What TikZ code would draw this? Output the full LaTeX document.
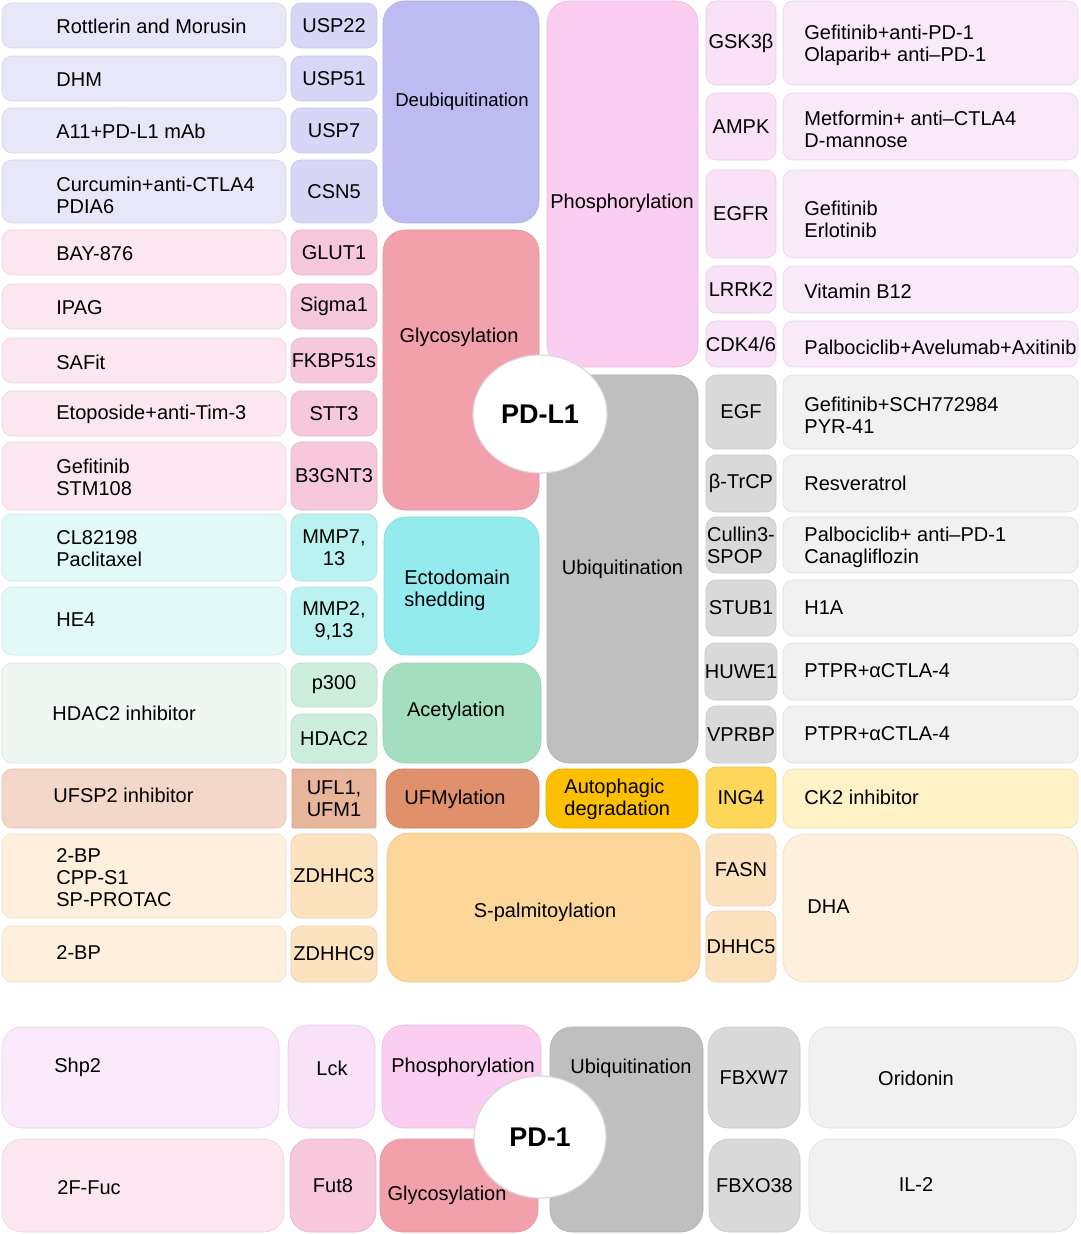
\documentclass[tikz,border=0pt]{standalone}
\usepackage{fontspec}
\setmainfont{Liberation Sans}
\usetikzlibrary{shapes.geometric}

\definecolor{deubA}{HTML}{BDBCF2}
\definecolor{deubB}{HTML}{D8D6F7}
\definecolor{deubC}{HTML}{E8E7FA}
\definecolor{glyA}{HTML}{F2A1AC}
\definecolor{glyB}{HTML}{F7C7DC}
\definecolor{glyC}{HTML}{FCE7F0}
\definecolor{ectA}{HTML}{94EBEE}
\definecolor{ectB}{HTML}{B9F2F1}
\definecolor{ectC}{HTML}{E1FAF8}
\definecolor{aceA}{HTML}{A3DFBF}
\definecolor{aceB}{HTML}{CDEEDC}
\definecolor{aceC}{HTML}{EEF7F1}
\definecolor{ufmA}{HTML}{E0906A}
\definecolor{ufmB}{HTML}{E8B49A}
\definecolor{ufmC}{HTML}{F3D7C9}
\definecolor{autA}{HTML}{FDC000}
\definecolor{autB}{HTML}{FDD65A}
\definecolor{autC}{HTML}{FEF2C6}
\definecolor{palA}{HTML}{FDD699}
\definecolor{palB}{HTML}{FDE2BF}
\definecolor{palC}{HTML}{FEF0DC}
\definecolor{phoA}{HTML}{FACDF1}
\definecolor{phoB}{HTML}{F9E1F7}
\definecolor{phoC}{HTML}{F9E9FB}
\definecolor{ubiA}{HTML}{BFBFBF}
\definecolor{ubiB}{HTML}{D9D9D9}
\definecolor{ubiC}{HTML}{F1F1F1}

\tikzset{
  tile/.style={fill=#1, draw=#1!92!black, line width=0.3pt,
    rounded corners=5pt, inner sep=0pt, align=center},
  block/.style={tile=#1, rounded corners=11pt},
  lbl/.style={inner sep=0pt, align=left, anchor=west},
  hub/.style={ellipse, fill=white, draw=black!15, line width=0.6pt,
    font=\bfseries\fontsize{13.5}{15}\selectfont},
}

% box from (x1,y1) to (x2,y2) in pixels: name, style, x1, y1, x2, y2, text
\newcommand{\tile}[7]{%
  \node[#2, minimum width={(#5-#3)*0.5pt}, minimum height={(#6-#4)*0.5pt}]
    (#1) at ({(#3+#5)/2},{(#4+#6)/2}) {#7};}

\begin{document}
\begin{tikzpicture}[x=0.5pt,y=-0.5pt,
    every node/.style={font=\fontsize{10}{11}\selectfont}]
  \useasboundingbox (0,0) rectangle (1080,1234);

  % PD-L1: drugs and enzymes on the left
  \foreach \n/\cb/\cc/\ya/\yb/\ty/\drug/\enz in {
      usp22/deubB/deubC/3/48/26/{Rottlerin and Morusin}/USP22,
      usp51/deubB/deubC/56/101/80/DHM/USP51,
      usp7/deubB/deubC/108/153/131/{A11+PD-L1 mAb}/USP7,
      csn5/deubB/deubC/160/223/195/{Curcumin+anti-CTLA4\\PDIA6}/CSN5,
      glut1/glyB/glyC/230/275/254/BAY-876/GLUT1,
      sigma1/glyB/glyC/284/329/308/IPAG/Sigma1,
      fkbp/glyB/glyC/338/383/362/SAFit/FKBP51s,
      stt3/glyB/glyC/391/436/414/{Etoposide+anti-Tim-3}/STT3,
      b3gnt3/glyB/glyC/442/510/477/{Gefitinib\\STM108}/B3GNT3,
      mmp7/ectB/ectC/514/581/549/{CL82198\\Paclitaxel}/{MMP7,\\13},
      mmp2/ectB/ectC/587/655/620/HE4/{MMP2,\\9,13},
      zdhhc3/palB/palC/834/918/878/{2-BP\\CPP-S1\\SP-PROTAC}/ZDHHC3,
      zdhhc9/palB/palC/926/982/953/2-BP/ZDHHC9}
  {
    \tile{d\n}{tile=\cc}{2}{\ya}{286}{\yb}{}
    \node[lbl] (t\n) at (56,\ty) {\drug};
    \tile{\n}{tile=\cb}{291}{\ya}{377}{\yb}{\enz}
  }

  % acetylation and UFMylation rows
  \tile{dhdac}{tile=aceC}{2}{663}{286}{763}{}
  \node[lbl] (thdac) at (52,713) {HDAC2 inhibitor};
  \tile{p300}{tile=aceB}{291}{663}{377}{707}{p300}
  \tile{hdac2}{tile=aceB}{291}{714}{377}{763}{HDAC2}
  \tile{dufsp}{tile=ufmC}{2}{769}{286}{828}{}
  \node[lbl] (tufsp) at (53,795) {UFSP2 inhibitor};
  \tile{ufl}{tile=ufmB, rounded corners=0.5pt}{292}{769}{376}{828}{UFL1,\\UFM1}

  % modifications in the middle
  \tile{deub}{block=deubA}{383}{1}{539}{223}{}
  \node[font=\fontsize{9.3}{11}\selectfont] (tdeub) at (462,102) {Deubiquitination};
  \tile{gly}{block=glyA}{383}{230}{539}{510}{}
  \node (tgly) at (459,337) {Glycosylation};
  \tile{ecto}{block=ectA}{384}{517}{539}{655}{}
  \node[lbl] (tecto) at (404,590) {Ectodomain\\shedding};
  \tile{ace}{block=aceA}{383}{663}{541}{763}{}
  \node (tace) at (456,711) {Acetylation};
  \tile{ufm}{tile=ufmA, rounded corners=8pt}{386}{769}{539}{828}{}
  \node (tufm) at (455,799) {UFMylation};
  \tile{auto}{tile=autA, rounded corners=8pt}{546}{769}{698}{828}{}
  \node[lbl] (tauto) at (564,799) {Autophagic\\degradation};
  \tile{palm}{block=palA}{387}{833}{700}{982}{}
  \node (tpalm) at (545,912) {S-palmitoylation};
  \tile{phos}{block=phoA}{547}{1}{698}{367}{}
  \node (tphos) at (622,203) {Phosphorylation};
  \tile{ubi}{block=ubiA}{547}{375}{698}{763}{Ubiquitination}

  % PD-L1: enzymes and drugs on the right
  \foreach \n/\cb/\cc/\ya/\yb/\ty/\drug/\enz in {
      gsk/phoB/phoC/1/85/45/{Gefitinib+anti-PD-1\\Olaparib+ anti–PD-1}/GSK3β,
      ampk/phoB/phoC/93/160/129/{Metformin+ anti–CTLA4\\D-mannose}/AMPK,
      egfr/phoB/phoC/170/258/219/{Gefitinib\\Erlotinib}/EGFR,
      lrrk2/phoB/phoC/266/313/291/{Vitamin B12}/LRRK2,
      cdk/phoB/phoC/321/367/347/{Palbociclib+Avelumab+Axitinib}/{CDK4/6},
      egf/ubiB/ubiC/375/449/415/{Gefitinib+SCH772984\\PYR-41}/EGF,
      btrcp/ubiB/ubiC/455/512/483/Resveratrol/β-TrCP,
      cul/ubiB/ubiC/517/573/547/{Palbociclib+ anti–PD-1\\Canagliflozin}/{Cullin3-\\SPOP},
      stub1/ubiB/ubiC/580/636/608/H1A/STUB1,
      huwe1/ubiB/ubiC/643/700/671/PTPR+αCTLA-4/HUWE1,
      vprbp/ubiB/ubiC/706/763/734/PTPR+αCTLA-4/VPRBP}
  {
    \tile{\n}{tile=\cb, align=left}{706}{\ya}{776}{\yb}{\enz}
    \tile{d\n}{tile=\cc}{783}{\ya}{1078}{\yb}{}
    \node[lbl] (t\n) at (804,\ty) {\drug};
  }

  % autophagy and palmitoylation on the right
  \tile{ing4}{tile=autB}{706}{767}{776}{828}{ING4}
  \tile{dck2}{tile=autC}{783}{769}{1078}{828}{}
  \node[lbl] (tck2) at (804,797) {CK2 inhibitor};
  \tile{fasn}{tile=palB}{706}{834}{776}{906}{FASN}
  \tile{dhhc5}{tile=palB}{706}{911}{776}{982}{DHHC5}
  \tile{ddha}{block=palC}{783}{834}{1078}{982}{}
  \node[lbl] (tdha) at (807,907) {DHA};

  \node[hub, minimum width=67pt, minimum height=59pt] (pdl1) at (540,414) {PD-L1};

  % PD-1
  \tile{bshp2}{tile=phoC, rounded corners=10pt}{2}{1027}{279}{1128}{}
  \node[lbl] (tshp2) at (54,1067) {Shp2};
  \tile{blck}{tile=phoB, rounded corners=10pt}{288}{1025}{375}{1128}{}
  \node (tlck) at (332,1068) {Lck};
  \tile{bphos}{block=phoA}{382}{1025}{541}{1128}{}
  \node (tbphos) at (463,1067) {Phosphorylation};
  \tile{bfuc}{tile=glyC, rounded corners=10pt}{2}{1139}{284}{1232}{}
  \node[lbl] (tfuc) at (57,1188) {2F-Fuc};
  \tile{bfut8}{tile=glyB, rounded corners=10pt}{290}{1139}{376}{1232}{Fut8}
  \tile{bgly}{block=glyA}{380}{1139}{538}{1232}{}
  \node (tbgly) at (447,1195) {Glycosylation};
  \tile{bubi}{block=ubiA}{550}{1027}{703}{1232}{}
  \node (tbubi) at (631,1068) {Ubiquitination};
  \tile{fbxw7}{tile=ubiB, rounded corners=10pt}{708}{1027}{800}{1128}{FBXW7}
  \tile{fbxo38}{tile=ubiB, rounded corners=10pt}{709}{1139}{800}{1232}{FBXO38}
  \tile{dori}{tile=ubiC, rounded corners=10pt}{809}{1027}{1076}{1128}{}
  \node (tori) at (916,1078) {Oridonin};
  \tile{dil2}{tile=ubiC, rounded corners=10pt}{809}{1139}{1076}{1232}{}
  \node (til2) at (916,1185) {IL-2};

  \node[hub, minimum width=66pt, minimum height=61pt] (pd1) at (540,1137) {PD-1};
\end{tikzpicture}
\end{document}
